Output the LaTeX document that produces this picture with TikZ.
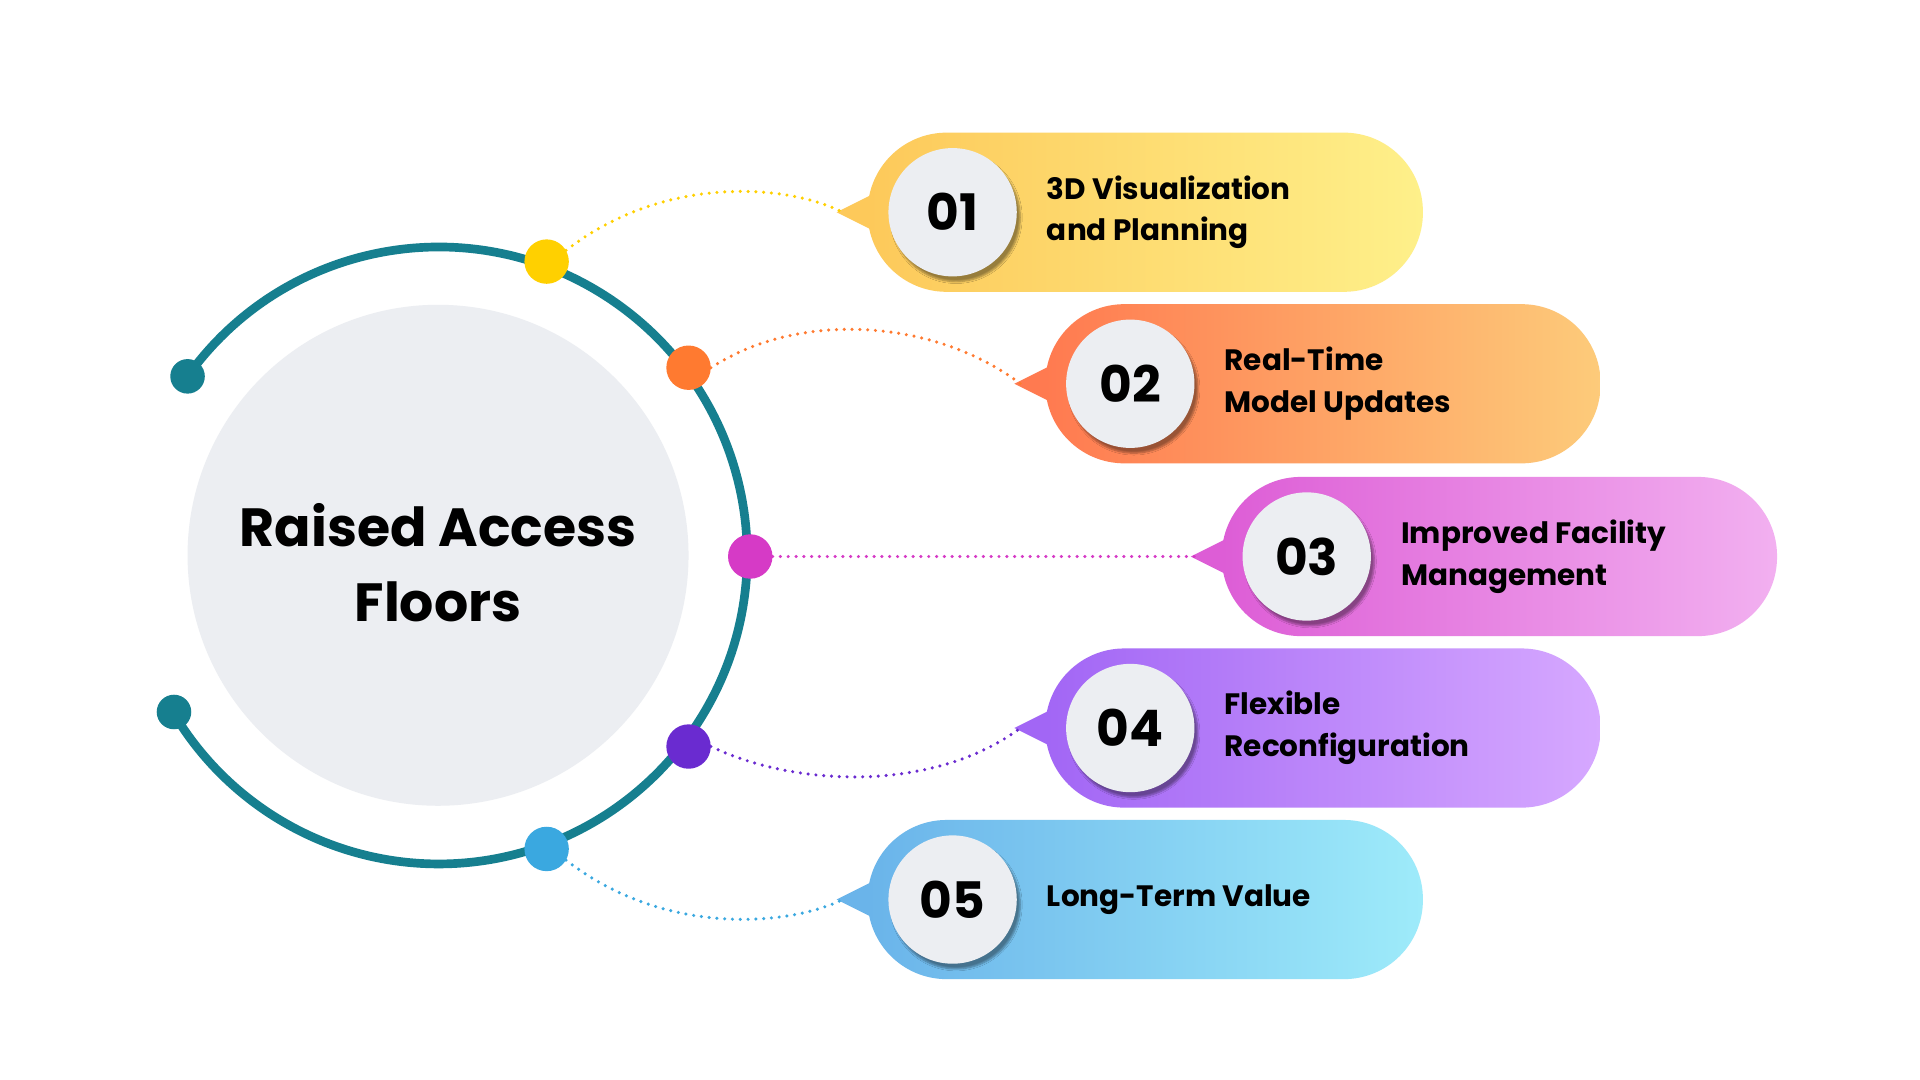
\documentclass[tikz,border=0pt]{standalone}
\usepackage{fontspec}
\setmainfont{Poppins}
\usetikzlibrary{shadows.blur}
\definecolor{teal}{HTML}{167F8F}
\definecolor{bg}{HTML}{ECEEF2}
\definecolor{aA}{HTML}{FDC95A}\definecolor{aB}{HTML}{FEF08A}\definecolor{aD}{HTML}{FFD000}
\definecolor{bA}{HTML}{FF7A50}\definecolor{bB}{HTML}{FDCB7A}\definecolor{bD}{HTML}{FF7A30}
\definecolor{cA}{HTML}{DD5DD6}\definecolor{cB}{HTML}{F2B0F0}\definecolor{cD}{HTML}{D63AC6}
\definecolor{dA}{HTML}{A266F5}\definecolor{dB}{HTML}{D6A8FF}\definecolor{dD}{HTML}{6A2BD0}
\definecolor{eA}{HTML}{6AB4EA}\definecolor{eB}{HTML}{9EEBFA}\definecolor{eD}{HTML}{3AA8E0}
\begin{document}
\begin{tikzpicture}[x=0.05cm,y=-0.05cm,
 pill/.style={rounded corners=64*0.05cm,minimum width=450*0.05cm,minimum height=129*0.05cm,inner sep=0},
 num/.style={circle,fill=bg,minimum size=104*0.05cm,inner sep=0,font=\bfseries\fontsize{58}{60}\selectfont,blur shadow={shadow xshift=4pt,shadow yshift=-6pt,shadow blur steps=6}},
 lab/.style={anchor=west,align=left,font=\bfseries\fontsize{34}{48}\selectfont},
 dot/.style={circle,minimum size=36*0.05cm,inner sep=0},
 conn/.style={line width=4pt,dash pattern=on 0pt off 9pt,line cap=round}]
\useasboundingbox (0,0) rectangle (1556,875);
\fill[white] (0,0) rectangle (1556,875);
\node[circle,fill=bg,minimum size=406*0.05cm] (c) at (355,450) {};
\node[font=\bfseries\fontsize{62}{86}\selectfont,align=center] (t) at (355,456) {Raised Access\\Floors};
\draw[teal,line width=10pt] (355,450) ++(144.5:-250) coordinate(x0);
\draw[teal,line width=10pt] (152,305) arc[start angle=144.5,end angle=-149.3,radius=250*0.05cm];
\node[circle,fill=teal,minimum size=28*0.05cm] (e1) at (152,305) {};
\node[circle,fill=teal,minimum size=28*0.05cm] (e2) at (141,577) {};
% pills
\foreach \n/\x/\y/\A/\B/\t in {1/703/172/aA/aB/{3D Visualization\\and Planning},2/847/311/bA/bB/{Real-Time\\Model Updates},3/990/451/cA/cB/{Improved Facility\\Management},4/847/590/dA/dB/{Flexible\\Reconfiguration},5/703/729/eA/eB/{Long-Term Value}}{
 \node[pill,anchor=west,left color=\A,right color=\B] (p\n) at (\x,\y) {};
 \fill[\A] (\x-25,\y) -- (\x+3,\y-14) -- (\x+3,\y+14) -- cycle;
 \coordinate (tip\n) at (\x-20,\y);
 \node[num] (n\n) at (\x+69,\y) {0\n};
 \node[lab] (l\n) at (\x+143,\y) {\t};
}
\node[dot,fill=aD] (d1) at (443,212) {};
\node[dot,fill=bD] (d2) at (558,298) {};
\node[dot,fill=cD] (d3) at (608,451) {};
\node[dot,fill=dD] (d4) at (558,605) {};
\node[dot,fill=eD] (d5) at (443,688) {};
\draw[conn,aD] (d1.30) .. controls (540,140) and (640,150) .. (tip1);
\draw[conn,bD] (d2.east) .. controls (650,250) and (760,260) .. (tip2);
\draw[conn,cD] (d3.east) -- (tip3);
\draw[conn,dD] (d4.east) .. controls (650,640) and (760,640) .. (tip4);
\draw[conn,eD] (d5.-30) .. controls (540,760) and (640,750) .. (tip5);
\end{tikzpicture}
\end{document}
